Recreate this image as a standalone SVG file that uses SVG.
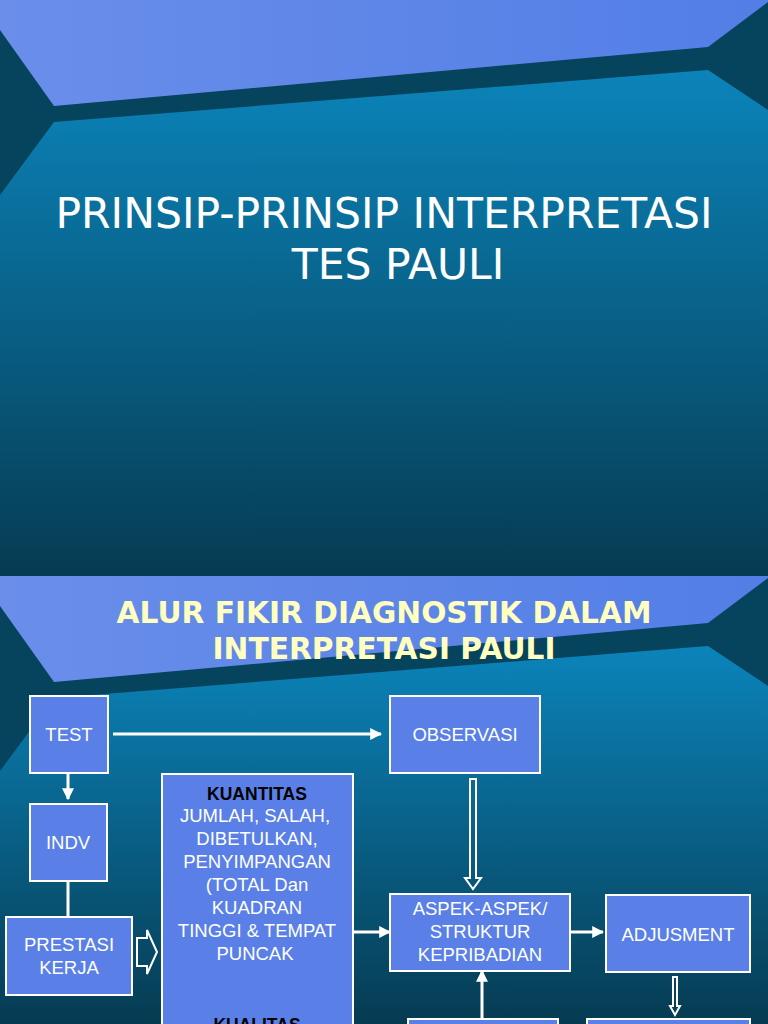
<svg xmlns="http://www.w3.org/2000/svg" width="768" height="1024" viewBox="0 0 768 1024">
<defs>
<linearGradient id="lt" x1="0" y1="0" x2="1" y2="0"><stop offset="0" stop-color="#6a8eea"/><stop offset="1" stop-color="#527ee6"/></linearGradient>
<linearGradient id="tl" x1="0" y1="0" x2="0" y2="1"><stop offset="0" stop-color="#0b84ba"/><stop offset="1" stop-color="#063b52"/></linearGradient>
<marker id="ah" viewBox="0 0 10 10" refX="9" refY="5" markerWidth="4" markerHeight="4" orient="auto"><path d="M0,0L10,5L0,10z" fill="#fff"/></marker>
</defs>
<style>
.bx{fill:#5a80e8;stroke:#fff;stroke-width:2}
.t{font-family:"Liberation Sans",Arial,sans-serif;font-size:18.5px;fill:#fff;text-anchor:middle}
.b{font-weight:bold;fill:#000;font-size:17.5px}
.ln{stroke:#fff;stroke-width:3;fill:none;marker-end:url(#ah)}
.hol{fill:none;stroke:#fff;stroke-width:2}
</style>
<rect width="768" height="1024" fill="#06435d"/>
<polygon points="0,0 768,0 768,2 708,47 54,106 0,30" fill="url(#lt)"/>
<polygon points="54,122 708,70 768,110 768,576 0,576 0,195" fill="url(#tl)"/>
<text x="384" y="228" font-family="DejaVu Sans,sans-serif" font-size="42.5" fill="#fff" text-anchor="middle">PRINSIP-PRINSIP INTERPRETASI</text>
<text x="398" y="279" font-family="DejaVu Sans,sans-serif" font-size="42.5" fill="#fff" text-anchor="middle">TES PAULI</text>
<rect y="576" width="768" height="448" fill="#06435d"/>
<polygon points="0,576 768,576 768,578 708,623 54,682 0,606" fill="url(#lt)"/>
<polygon points="54,698 708,646 768,686 768,1024 0,1024 0,771" fill="url(#tl)"/>
<text x="384" y="623" font-family="DejaVu Sans,sans-serif" font-size="29.7" font-weight="bold" fill="#ffffc0" text-anchor="middle">ALUR FIKIR DIAGNOSTIK DALAM</text>
<text x="384" y="659" font-family="DejaVu Sans,sans-serif" font-size="29.7" font-weight="bold" fill="#ffffc0" text-anchor="middle">INTERPRETASI PAULI</text>
<g id="connectors">
<line class="ln" x1="113" y1="734" x2="381" y2="734"/>
<line class="ln" x1="68" y1="774" x2="68" y2="799"/>
<line x1="68" y1="881" x2="68" y2="917" stroke="#fff" stroke-width="3"/>
<path class="hol" d="M137,938H147V930L157,952L147,974V966H137Z"/>
<line class="ln" x1="354" y1="932" x2="390" y2="932"/>
<path class="hol" d="M470,779H476V878H481L473,889L465,878H470Z"/>
<line class="ln" x1="571" y1="932" x2="603" y2="932"/>
<line class="ln" x1="482" y1="1019" x2="482" y2="971"/>
<path class="hol" d="M673,977H677V1006H680L675,1015L670,1006H673Z"/>
</g>
<g id="test"><rect class="bx" x="30" y="696" width="78" height="77"/><text class="t" x="69" y="741">TEST</text></g>
<g id="observasi"><rect class="bx" x="390" y="696" width="150" height="77"/><text class="t" x="465" y="741">OBSERVASI</text></g>
<g id="indv"><rect class="bx" x="30" y="804" width="77" height="77"/><text class="t" x="68" y="849">INDV</text></g>
<g id="prestasi"><rect class="bx" x="6" y="917" width="126" height="78"/><text class="t" x="69" y="951">PRESTASI</text><text class="t" x="69" y="974">KERJA</text></g>
<g id="kuantitas"><rect class="bx" x="162" y="774" width="191" height="262"/>
<text class="t b" x="257" y="800">KUANTITAS</text>
<text class="t" x="255" y="822">JUMLAH, SALAH,</text>
<text class="t" x="257" y="845">DIBETULKAN,</text>
<text class="t" x="257" y="868">PENYIMPANGAN</text>
<text class="t" x="257" y="891">(TOTAL Dan</text>
<text class="t" x="257" y="914">KUADRAN</text>
<text class="t" x="257" y="937">TINGGI &amp; TEMPAT</text>
<text class="t" x="255" y="960">PUNCAK</text>
<text class="t b" x="257" y="1031">KUALITAS</text></g>
<g id="aspek"><rect class="bx" x="390" y="894" width="180" height="77"/><text class="t" x="480" y="915">ASPEK-ASPEK/</text><text class="t" x="480" y="938">STRUKTUR</text><text class="t" x="480" y="961">KEPRIBADIAN</text></g>
<g id="adjusment"><rect class="bx" x="606" y="895" width="144" height="77"/><text class="t" x="678" y="941">ADJUSMENT</text></g>
<g id="box-bl"><rect class="bx" x="408" y="1019" width="150" height="30"/></g>
<g id="box-br"><rect class="bx" x="587" y="1019" width="163" height="30"/></g>
</svg>
